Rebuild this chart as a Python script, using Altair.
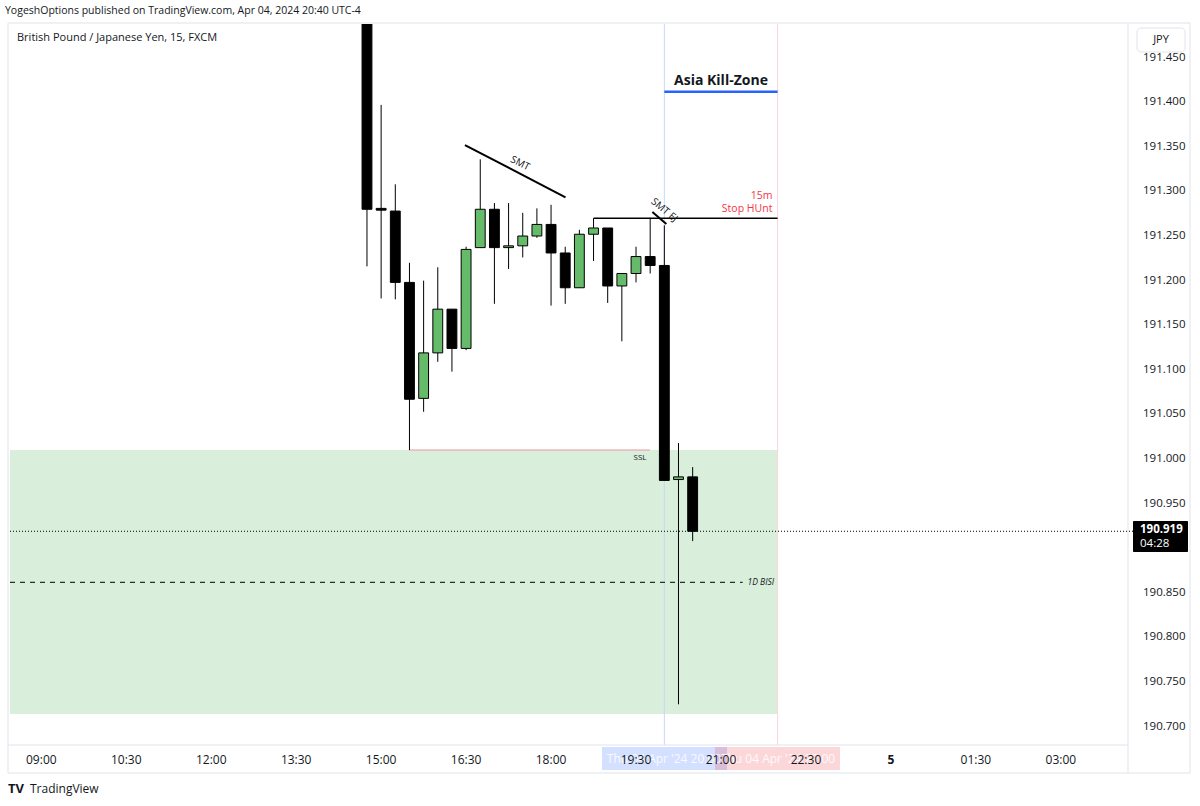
import altair as alt
import pandas as pd

# ---------------- data ----------------
# 15-minute candles, time in hours (14.75 = 14:45)
times = [14.75, 15.0, 15.25, 15.5, 15.75, 16.0, 16.25, 16.5, 16.75, 17.0, 17.25, 17.5,
         17.75, 18.0, 18.25, 18.5, 18.75, 19.0, 19.25, 19.5, 19.75, 20.0, 20.25, 20.5]
opens = [191.600, 191.281, 191.278, 191.198, 191.068, 191.119, 191.168, 191.124, 191.237, 191.280,
         191.237, 191.239, 191.250, 191.263, 191.231, 191.192, 191.252, 191.259, 191.194, 191.208,
         191.227, 191.217, 190.977, 190.980]
highs = [191.620, 191.397, 191.308, 191.220, 191.200, 191.215, 191.168, 191.238, 191.336, 191.287,
         191.287, 191.276, 191.281, 191.285, 191.238, 191.257, 191.270, 191.259, 191.208, 191.238,
         191.270, 191.262, 191.018, 190.991]
lows = [191.216, 191.180, 191.179, 191.010, 191.053, 191.109, 191.098, 191.122, 191.237, 191.174,
        191.213, 191.226, 191.248, 191.172, 191.174, 191.192, 191.222, 191.175, 191.132, 191.198,
        191.208, 190.976, 190.725, 190.908]
closes = [191.280, 191.279, 191.198, 191.067, 191.119, 191.168, 191.124, 191.235, 191.280, 191.237,
          191.239, 191.250, 191.263, 191.231, 191.192, 191.252, 191.259, 191.194, 191.208, 191.227,
          191.217, 190.976, 190.980, 190.919]

x_tick_vals = [9, 10.5, 12, 13.5, 15, 16.5, 18, 19.5, 21, 22.5, 24, 25.5, 27]
x_tick_labels = ["09:00", "10:30", "12:00", "13:30", "15:00", "16:30", "18:00", "19:30",
                 "21:00", "22:30", "5", "01:30", "03:00"]
x_tick_bold = [False] * 10 + [True, False, False]
y_tick_vals = [190.70, 190.75, 190.80, 190.85, 190.95, 191.00, 191.05, 191.10, 191.15,
               191.20, 191.25, 191.30, 191.35, 191.40, 191.45]

last_price = 190.919
bisi_top, bisi_bottom, bisi_mid = 191.0101, 190.7141, 190.8618
ssl_level = 191.0101
stop_hunt_level = 191.2698
killzone_start, killzone_end = 20.0, 22.0

X_DOMAIN = [8.4474, 28.1861]
Y_DOMAIN = [190.6794, 191.4877]

FONT = "Open Sans"
W, H = 1118, 721

# ---------------- helpers ----------------
def X(field, **kw):
    return alt.X(field, type="quantitative",
                 scale=alt.Scale(domain=X_DOMAIN, nice=False, zero=False), axis=None, **kw)

def Y(field, **kw):
    return alt.Y(field, type="quantitative",
                 scale=alt.Scale(domain=Y_DOMAIN, nice=False, zero=False), axis=None, **kw)

def one(**kw):
    return pd.DataFrame([kw])

# ---------------- candles ----------------
df = pd.DataFrame(dict(t=times, o=opens, h=highs, l=lows, c=closes))
df["x1"] = df.t - 0.087
df["x2"] = df.t + 0.087
df["top"] = df[["o", "c"]].max(axis=1)
df["bot"] = df[["o", "c"]].min(axis=1)
df["fill"] = ["#66bb6a" if c >= o else "#000000" for o, c in zip(df.o, df.c)]

# ---------------- axis labels (through the scales) ----------------
xt = pd.DataFrame({"v": x_tick_vals, "lab": x_tick_labels, "bold": x_tick_bold})
x_labels = alt.Chart(xt).transform_filter("!datum.bold").mark_text(
    font=FONT, fontSize=12, color="#131722", clip=False).encode(
    x=X("v"), y=alt.value(736), text="lab:N")
x_labels_b = alt.Chart(xt).transform_filter("datum.bold").mark_text(
    font=FONT, fontSize=12, fontWeight="bold", color="#131722", clip=False).encode(
    x=X("v"), y=alt.value(736), text="lab:N")
yt = pd.DataFrame({"v": y_tick_vals})
y_labels = alt.Chart(yt).mark_text(
    font=FONT, fontSize=11.5, color="#131722", align="left", clip=False).encode(
    x=alt.value(1133), y=Y("v"), text=alt.Text("v:Q", format=".3f"))

# ---------------- annotations ----------------
zone = alt.Chart(one(x=X_DOMAIN[0], x2=killzone_end, y=bisi_bottom, y2=bisi_top)).mark_rect(
    color="#d9eedb").encode(x=X("x"), x2="x2", y=Y("y"), y2="y2")

kz = alt.Chart(pd.DataFrame({"t": [killzone_start, killzone_end],
                             "col": ["#c9d8f6", "#fad6da"]})).mark_rule(strokeWidth=1).encode(
    x=X("t"), color=alt.Color("col:N", scale=None))

dashed = alt.Chart(one(x=X_DOMAIN[0], x2=21.383, y=bisi_mid)).mark_rule(
    color="#000000", strokeDash=[5, 5], strokeWidth=1).encode(x=X("x"), x2="x2", y=Y("y"))

dotted = alt.Chart(one(y=last_price)).mark_rule(
    color="#000000", strokeDash=[1, 2], strokeWidth=1).encode(
    x=alt.value(0), x2=alt.value(1123), y=Y("y"))

ssl = alt.Chart(one(x=15.5, x2=19.747, y=ssl_level)).mark_rule(
    color="#ee96a0", strokeWidth=1.2).encode(x=X("x"), x2="x2", y=Y("y"))

stop = alt.Chart(one(x=18.751, x2=killzone_end, y=stop_hunt_level)).mark_rule(
    color="#000000", strokeWidth=1.5).encode(x=X("x"), x2="x2", y=Y("y"))

smt_lines = alt.Chart(pd.DataFrame({"x": [16.48, 19.789], "x2": [18.255, 20.036],
                                    "y": [191.352, 191.2769], "y2": [191.2934, 191.2635]})).mark_rule(
    color="#000000", strokeWidth=2).encode(x=X("x"), x2="x2", y=Y("y"), y2="y2")

blue = alt.Chart(one(x=killzone_start, x2=killzone_end, y=191.4118)).mark_rule(
    color="#2962ff", strokeWidth=2.5).encode(x=X("x"), x2="x2", y=Y("y"))

wicks = alt.Chart(df).mark_rule(color="#000000", strokeWidth=1, clip=True).encode(
    x=X("t"), y=Y("l"), y2="h")

bodies = alt.Chart(df).mark_rect(stroke="#000000", strokeWidth=1, clip=True).encode(
    x=X("x1"), x2="x2", y=Y("bot"), y2="top", color=alt.Color("fill:N", scale=None))

def txt(x, y, text, **mk):
    return alt.Chart(one(x=x, y=y, s=text)).mark_text(font=FONT, **mk).encode(
        x=X("x"), y=Y("y"), text="s:N")

t_smt = txt(17.452, 191.3315, "SMT", angle=27, fontSize=10, color="#131722")
t_smtej = txt(20.0, 191.2791, "SMT EJ", angle=40, fontSize=10, color="#131722")
t_15m = txt(21.908, 191.2946, "15m", align="right", fontSize=10.5, color="#f23645")
t_stop = txt(21.908, 191.2806, "Stop HUnt", align="right", fontSize=10.5, color="#f23645")
t_ssl = txt(19.57, 191.0015, "SSL", fontSize=8, color="#131722")
t_bisi = txt(21.703, bisi_mid, "1D BISI", fontSize=8.5, fontStyle="italic", color="#131722")
t_asia = txt(21.0, 191.4241, "Asia Kill-Zone", fontSize=14, fontWeight="bold", color="#131722")

# ---------------- pixel-placed chrome ----------------
def pix_rect(x, x2, y, y2, **mk):
    return alt.Chart(one(a=0)).mark_rect(clip=False, **mk).encode(
        x=alt.value(x), x2=alt.value(x2), y=alt.value(y), y2=alt.value(y2))

def pix_rule(x, x2, y, y2, **mk):
    return alt.Chart(one(a=0)).mark_rule(clip=False, **mk).encode(
        x=alt.value(x), x2=alt.value(x2), y=alt.value(y), y2=alt.value(y2))

def pix_text(x, y, text, **mk):
    return alt.Chart(one(s=text)).mark_text(font=FONT, clip=False, **mk).encode(
        x=alt.value(x), y=alt.value(y), text="s:N")

frame = pix_rect(-2, 1180, -1, 749, fill="#ffffff", fillOpacity=0, stroke="#e0e3eb", strokeWidth=1)
x_domain_line = pix_rule(-2, 1118, 721, 721, color="#e0e3eb", strokeWidth=1)
y_domain_line = pix_rule(1118, 1118, -1, 749, color="#e0e3eb", strokeWidth=1)
price_box = pix_rect(1123, 1178, 497, 528, fill="#000000", cornerRadius=1)
price_t1 = pix_text(1130, 506, "190.919", align="left", fontSize=11.5, fontWeight="bold", color="#ffffff")
price_t2 = pix_text(1130, 520, "04:28", align="left", fontSize=11.5, color="#ffffff")
jpy_box = pix_rect(1127, 1175, 4, 28, fill="#ffffff", stroke="#e0e3eb", strokeWidth=1, cornerRadius=4)
jpy_t = pix_text(1151, 16, "JPY", fontSize=11, color="#131722")
hdr = pix_text(-5, -13, "YogeshOptions published on TradingView.com, Apr 04, 2024 20:40 UTC-4",
               align="left", fontSize=10.5, color="#131722")
sym = pix_text(7, 14, "British Pound / Japanese Yen, 15, FXCM", align="left", fontSize=11, color="#131722")
logo = pix_text(-2, 765, "TV", align="left", fontSize=13, fontWeight="bold", color="#131722")
foot = pix_text(20, 765, "TradingView", align="left", fontSize=12, color="#131722")
rb = pix_rect(592, 717, 723, 746, fill="#2962ff", opacity=0.2)
rp = pix_rect(705, 830, 723, 746, fill="#f23645", opacity=0.2)
rb_t = pix_text(654, 735, "Thu 04 Apr '24   20:00", fontSize=12, color="#ffffff", opacity=0.85)
rp_t = pix_text(768, 735, "Thu 04 Apr '24   22:00", fontSize=12, color="#ffffff", opacity=0.85)

chart = alt.layer(
    zone, kz, dashed, dotted, ssl, stop, smt_lines, blue, wicks, bodies,
    t_smt, t_smtej, t_15m, t_stop, t_ssl, t_bisi, t_asia,
    frame, x_domain_line, y_domain_line, y_labels, price_box, price_t1, price_t2,
    jpy_box, jpy_t, hdr, sym, logo, foot,
    rb, rp, rb_t, rp_t, x_labels, x_labels_b,
).properties(
    width=W, height=H,
    autosize=alt.AutoSizeParams(type="none"),
    padding={"left": 10, "top": 24, "right": 72, "bottom": 61},
    background="#ffffff",
).configure_view(strokeWidth=0)

chart.save("out.html", embed_options={"renderer": "svg", "actions": False})
